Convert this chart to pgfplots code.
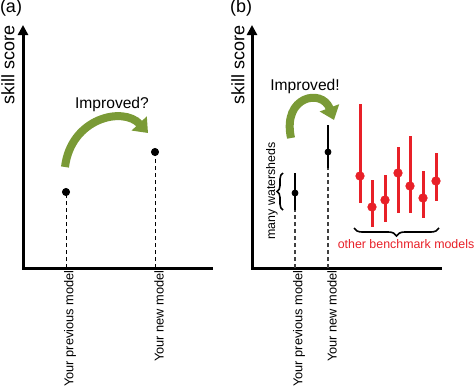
\documentclass[border=0pt]{standalone}
\usepackage{pgfplots}
\pgfplotsset{compat=1.18}
\usepackage{fontspec}
\setmainfont{Liberation Sans}
\usetikzlibrary{arrows.meta,decorations.pathreplacing}
\definecolor{benchred}{RGB}{232,32,40}
\definecolor{arrowgreen}{RGB}{122,154,54}
\begin{document}
\begin{tikzpicture}
\path[use as bounding box] (0,0) rectangle (237pt,193.5pt);
\pgfplotsset{panel/.style={
  x=0.5pt,y=0.5pt,xmin=0,xmax=188,ymin=0,ymax=243,
  axis lines=left, anchor=south west, clip=false,
  axis line style={line width=1.5pt, line cap=rect},
  x axis line style={-},
  y axis line style={-{Triangle[width=5pt,length=5pt]}},
  ytick=\empty, major tick length=0pt,
  xticklabel style={rotate=90,anchor=east,font=\fontsize{6.4}{7}\selectfont, inner sep=1pt, yshift=-2pt},
}}
% ---------- panel (a)
\begin{axis}[panel, at={(11.5pt,59.5pt)}, xtick={43,132},
  xticklabels={Your previous model,Your new model}]
\addplot[black, dashed, dash pattern=on 2pt off 1.5pt, line width=0.5pt] coordinates {(43,0) (43,76)};
\addplot[black, dashed, dash pattern=on 2pt off 1.5pt, line width=0.5pt] coordinates {(132,0) (132,116)};
\addplot[black, only marks, mark=*, mark size=1.8pt] coordinates {(43,76) (132,116)};
\node[font=\fontsize{9}{10}\selectfont] at (axis cs:-12,260) {(a)};
\node[font=\fontsize{9}{10}\selectfont, rotate=90] at (axis cs:-15,203) {skill score};
\node[font=\fontsize{7.8}{9}\selectfont] at (axis cs:89,164) {Improved?};
\draw[arrowgreen, line width=4pt, -{Triangle[width=10pt,length=6.5pt]}]
  (axis cs:42,101) .. controls (axis cs:48,150) and (axis cs:100,162) .. (axis cs:125,135);
\end{axis}
% ---------- panel (b)
\begin{axis}[panel, at={(126pt,59.5pt)}, xtick={43,76},
  xticklabels={Your previous model,Your new model}]
\addplot[black!75, dashed, dash pattern=on 2pt off 1.5pt, line width=0.6pt] coordinates {(43,0) (43,58)};
\addplot[black!75, dashed, dash pattern=on 2pt off 1.5pt, line width=0.6pt] coordinates {(76,0) (76,100)};
\addplot[black, only marks, mark=*, mark size=1.5pt,
  error bars/.cd, y dir=both, y explicit, error mark=none,
  error bar style={line width=1.25pt, black}]
  coordinates {(43,75) += (0,20) -= (0,17)
               (76,116) += (0,27) -= (0,16)};
\addplot[benchred, only marks, mark=*, mark size=2.1pt,
  error bars/.cd, y dir=both, y explicit, error mark=none,
  error bar style={line width=1.5pt, benchred}]
  coordinates {(108,92) += (0,72) -= (0,27)
               (120,61) += (0,27) -= (0,20)
               (133,68) += (0,25) -= (0,22)
               (146,95) += (0,26) -= (0,40)
               (158,82) += (0,50) -= (0,27)
               (171,70) += (0,27) -= (0,20)
               (184,87) += (0,28) -= (0,20)};
\node[font=\fontsize{9}{10}\selectfont] at (axis cs:-11,260) {(b)};
\node[font=\fontsize{9}{10}\selectfont, rotate=90] at (axis cs:-14,203) {skill score};
\node[font=\fontsize{7.8}{9}\selectfont] at (axis cs:53,182) {Improved!};
\node[font=\fontsize{6.2}{7}\selectfont, rotate=90] at (axis cs:20,77) {many watersheds};
\draw[decorate, decoration={brace, amplitude=3pt}, line width=0.8pt] (axis cs:31,58) -- (axis cs:31,95);
\draw[decorate, decoration={brace, amplitude=4pt}, line width=0.8pt] (axis cs:187,40) -- (axis cs:102,40);
\node[font=\fontsize{6.2}{7}\selectfont, text=benchred] at (axis cs:154,24) {other benchmark models};
\draw[arrowgreen, line width=4pt, -{Triangle[width=10pt,length=6.5pt]}]
  (axis cs:39,130) .. controls (axis cs:30,172) and (axis cs:70,180) .. (axis cs:82,148);
\end{axis}
\end{tikzpicture}
\end{document}
